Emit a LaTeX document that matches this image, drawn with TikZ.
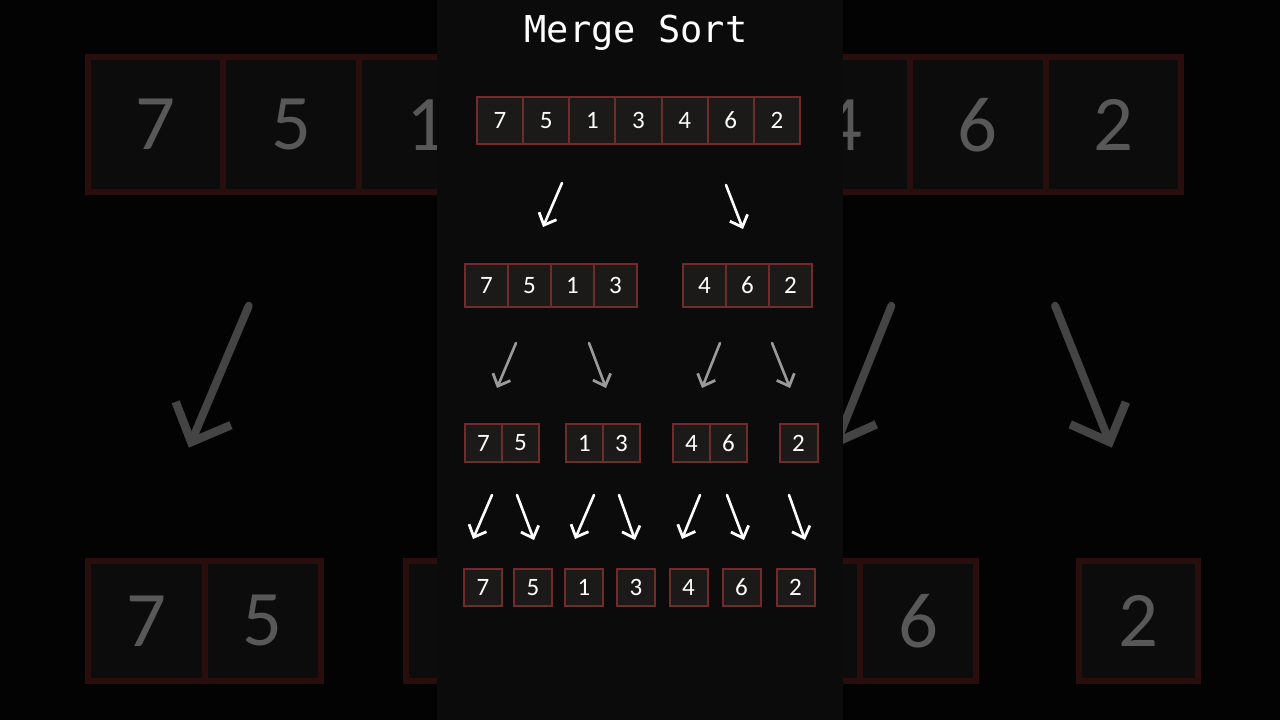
\documentclass[tikz,border=0pt]{standalone}
\usepackage{fontspec}
\setmainfont{Carlito}
\newfontfamily\titlefont{DejaVu Sans Mono}
\usetikzlibrary{arrows.meta}
\definecolor{panelbg}{HTML}{0B0B0B}
\definecolor{sidebg}{HTML}{030303}
\definecolor{cellfill}{HTML}{1C1A18}
\definecolor{cellline}{HTML}{722B2B}
\definecolor{grayarrow}{HTML}{9A9A9A}
\definecolor{bgfill}{HTML}{0C0C0C}
\definecolor{bgline}{HTML}{2A0E0E}
\definecolor{bgtext}{HTML}{585858}
\definecolor{bgarrowc}{HTML}{444444}
\tikzset{
  digit/.style={font=\fontsize{25}{25}\selectfont, inner sep=0pt},
  cell/.style={digit, draw=cellline, fill=cellfill, line width=2pt, text=white},
  bgcell/.style={digit, draw=bgline, fill=bgfill, line width=6pt, text=bgtext},
  rA/.style={minimum width=46.1pt, minimum height=47pt},
  rB/.style={minimum width=43pt, minimum height=43pt},
  rC/.style={minimum width=37pt, minimum height=38pt},
  rD/.style={minimum width=38pt, minimum height=37pt},
  warrow/.style={draw=white, line width=2.6pt, line cap=round, -{Straight Barb[length=10pt,width=19pt,line width=2.8pt]}},
  garrow/.style={draw=grayarrow, line width=2.6pt, line cap=round, -{Straight Barb[length=10pt,width=19pt,line width=2.8pt]}},
  bgarrow/.style={draw=bgarrowc, line width=8pt, line cap=round, -{Straight Barb[length=31pt,width=60pt,line width=8.5pt]}},
}
% rows 2 and 3 with the grey arrows: #1 name prefix, #2 cell style, #3 arrow style
\newcommand{\midrows}[3]{%
  \node[#2, rB] (#1b1) at (486.5,285.5) {7};
  \node[#2, rB] (#1b2) at (529.5,285.5) {5};
  \node[#2, rB] (#1b3) at (572.5,285.5) {1};
  \node[#2, rB] (#1b4) at (615.5,285.5) {3};
  \node[#2, rB] (#1b5) at (704.5,285.5) {4};
  \node[#2, rB] (#1b6) at (747.5,285.5) {6};
  \node[#2, rB] (#1b7) at (790.5,285.5) {2};
  \coordinate (#1g1s) at (516,343); \coordinate (#1g1e) at (497,388);
  \coordinate (#1g2s) at (589,343); \coordinate (#1g2e) at (606,388);
  \coordinate (#1g3s) at (720,343); \coordinate (#1g3e) at (702,388);
  \coordinate (#1g4s) at (772,343); \coordinate (#1g4e) at (790,388);
  \draw[#3] (#1g1s) -- (#1g1e);
  \draw[#3] (#1g2s) -- (#1g2e);
  \draw[#3] (#1g3s) -- (#1g3e);
  \draw[#3] (#1g4s) -- (#1g4e);
  \node[#2, rC] (#1c1) at (483.5,443) {7};
  \node[#2, rC] (#1c2) at (520.5,443) {5};
  \node[#2, rC] (#1c3) at (584.5,443) {1};
  \node[#2, rC] (#1c4) at (621.5,443) {3};
  \node[#2, rC] (#1c5) at (691.5,443) {4};
  \node[#2, rC] (#1c6) at (728.5,443) {6};
  \node[#2, rC, minimum width=38pt] (#1c7) at (798.5,443) {2};
}
\begin{document}
\begin{tikzpicture}[x=1pt,y=-1pt]
\useasboundingbox (0,0) rectangle (1280,720);
\fill[sidebg] (0,0) rectangle (1280,720);
% enlarged, dimmed background copy
\begin{scope}[shift={(-1376.75pt,774.6pt)}, scale=3.15, transform shape]
  \midrows{bg}{bgcell}{bgarrow}
\end{scope}
% central panel
\fill[panelbg] (437,0) rectangle (843,720);
\node[font=\titlefont\fontsize{37}{37}\selectfont, text=white, anchor=base, inner sep=0pt] (title) at (636,42) {Merge Sort};
% row 1
\node[cell, rA] (a1) at (500.07,120.5) {7};
\node[cell, rA] (a2) at (546.21,120.5) {5};
\node[cell, rA] (a3) at (592.36,120.5) {1};
\node[cell, rA] (a4) at (638.5,120.5) {3};
\node[cell, rA] (a5) at (684.64,120.5) {4};
\node[cell, rA] (a6) at (730.79,120.5) {6};
\node[cell, rA] (a7) at (776.93,120.5) {2};
% arrows row 1 -> row 2
\coordinate (w1s) at (562,183); \coordinate (w1e) at (543,227);
\coordinate (w2s) at (726,185); \coordinate (w2e) at (743,229);
\draw[warrow] (w1s) -- (w1e);
\draw[warrow] (w2s) -- (w2e);
% rows 2 and 3
\midrows{}{cell}{garrow}
% arrows row 3 -> row 4
\coordinate (x1s) at (492,495); \coordinate (x1e) at (473,539);
\coordinate (x2s) at (517,495); \coordinate (x2e) at (534,540);
\coordinate (x3s) at (594,495); \coordinate (x3e) at (575,539);
\coordinate (x4s) at (619,495); \coordinate (x4e) at (635,540);
\coordinate (x5s) at (700,495); \coordinate (x5e) at (682,539);
\coordinate (x6s) at (727,495); \coordinate (x6e) at (744,540);
\coordinate (x7s) at (789,495); \coordinate (x7e) at (805,540);
\foreach \i in {1,...,7} { \draw[warrow] (x\i s) -- (x\i e); }
% row 4
\node[cell, rD] (d1) at (483,587.5) {7};
\node[cell, rD] (d2) at (533,587.5) {5};
\node[cell, rD] (d3) at (584,587.5) {1};
\node[cell, rD] (d4) at (636,587.5) {3};
\node[cell, rD] (d5) at (688.5,587.5) {4};
\node[cell, rD] (d6) at (741.5,587.5) {6};
\node[cell, rD] (d7) at (795.5,587.5) {2};
\end{tikzpicture}
\end{document}
